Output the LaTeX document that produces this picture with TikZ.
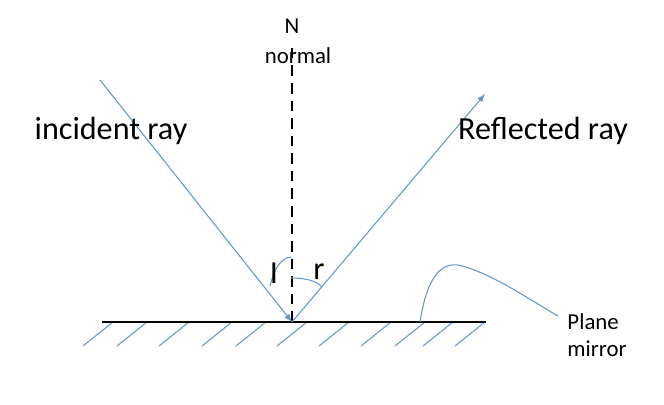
\documentclass[tikz,border=0pt]{standalone}
\usepackage{fontspec}
\setmainfont{Carlito}
\definecolor{rayc}{RGB}{100,150,200}
\begin{document}
\begin{tikzpicture}[x=0.02cm,y=-0.02cm,
  ray/.style={draw=rayc,line width=0.6pt},
  hatch/.style={draw=rayc,line width=0.6pt},
  big/.style={font=\fontsize{18.3}{21}\selectfont,inner sep=0pt},
  small/.style={font=\fontsize{13}{15.5}\selectfont,inner sep=0pt}]
\useasboundingbox (0,0) rectangle (664,405);
\coordinate (O) at (292,322);
\coordinate (A) at (100,80);
\coordinate (B) at (485,94);
\coordinate (T) at (292,42);
\coordinate (ML) at (102,322);
\coordinate (MR) at (486,322);
\foreach \x in {83,117,159,202,236,277,319,361,395,423,455}
  \draw[hatch] (\x,346) -- (\x+30,322);
\draw[line width=1.2pt] (ML) -- (MR);
\draw[line width=1.2pt,dashed,dash pattern=on 6pt off 4pt] (O) -- (T);
\draw[ray,-latex] (A) -- (O);
\draw[ray,-latex] (O) -- (B);
\draw[ray] (270,286) .. controls (274,270) and (280,258) .. (291,257);
\draw[ray] (291,278) .. controls (303,278) and (316,280) .. (322,287);
\draw[ray] (420,322) .. controls (425,290) and (435,262) .. (458,265) .. controls (490,272) and (530,300) .. (558,316);
\node[small] (N) at (292,26) {N};
\node[small] (nl) at (298,56) {normal};
\node[big] (inc) at (111,131) {incident ray};
\node[big] (ref) at (543,131) {Reflected ray};
\node[big] (I) at (274,273) {I};
\node[big] (r) at (319,272) {r};
\node[small,align=left] (pm) at (597,335) {Plane\\mirror};
\end{tikzpicture}
\end{document}
